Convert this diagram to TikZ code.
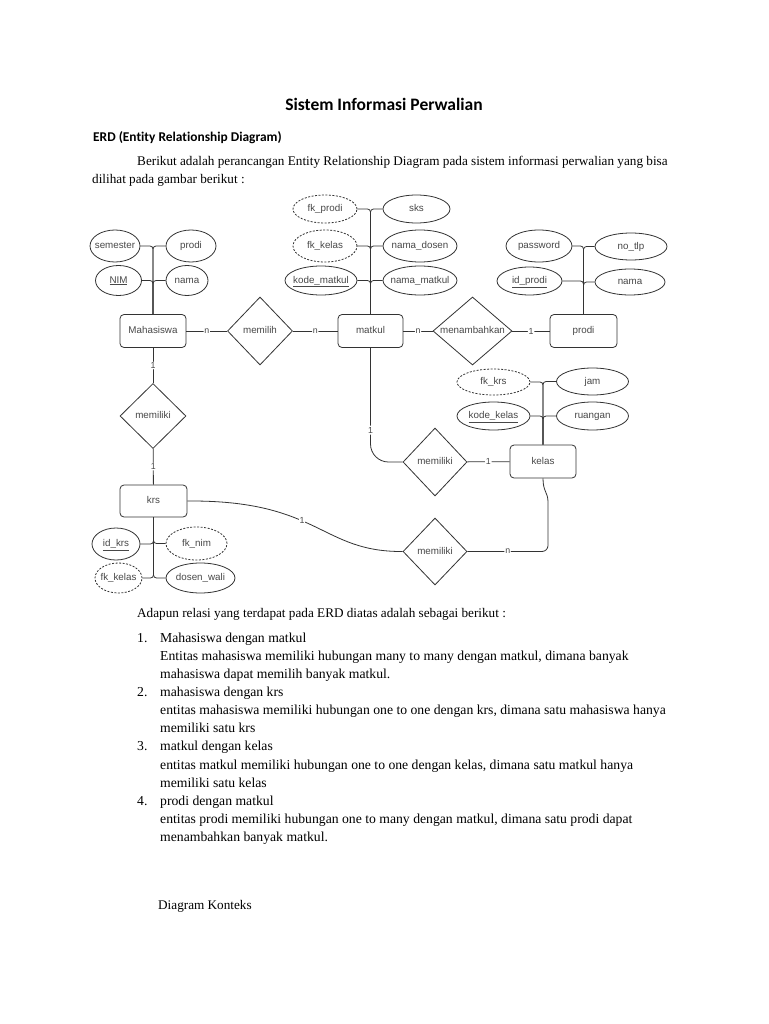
\documentclass[tikz,border=0pt]{standalone}
\usepackage{fontspec}
\setmainfont{Liberation Serif}
\newfontfamily\headfont[Ligatures=NoCommon]{Carlito}
\newfontfamily\erdfont{Liberation Sans}
\usetikzlibrary{shapes.geometric}
\definecolor{garis}{HTML}{333333}
\definecolor{tulisan}{HTML}{484848}

\begin{document}
\begin{tikzpicture}[x=1pt,y=-1pt]
\tikzstyle{every node}=[inner sep=0pt]
\tikzstyle{teks}=[anchor=base west, font=\fontsize{13.2}{16}\selectfont]
\tikzstyle{butir}=[anchor=base west, font=\fontsize{13.7}{16}\selectfont]
\tikzstyle{erd}=[draw=garis, line width=0.8pt, text=tulisan, text height=7pt, text depth=2pt, font=\erdfont\fontsize{9.8}{11}\selectfont]
\tikzstyle{entitas}=[erd, rounded corners=4pt, minimum height=33pt]
\tikzstyle{relasi}=[erd, diamond, shape aspect=1.2]
\tikzstyle{atribut}=[erd, ellipse, inner xsep=-8pt]
\tikzstyle{asing}=[atribut, dash pattern=on 2pt off 1.5pt]
\tikzstyle{hubung}=[draw=garis, line width=0.8pt, rounded corners=3pt]
\tikzstyle{kardinal}=[fill=white, inner sep=0.8pt, text=tulisan, font=\erdfont\fontsize{8.8}{10}\selectfont]

\fill[white] (0,0) rectangle (768,1024);
\useasboundingbox (0,0) rectangle (768,1024);

\node[anchor=base, font=\headfont\bfseries\fontsize{17.5}{20}\selectfont] (judul) at (384,111) {Sistem Informasi Perwalian};
\node[anchor=base west, font=\headfont\bfseries\fontsize{13.4}{16}\selectfont] (subjudul) at (93,142) {ERD (Entity Relationship Diagram)};
\node[teks] (berikut) at (137,166) {Berikut adalah perancangan Entity Relationship Diagram pada sistem informasi perwalian yang bisa};
\node[teks] (dilihat) at (92,184) {dilihat pada gambar berikut :};

% entitas
\node[entitas, minimum width=66pt] (mhs) at (153,331) {Mahasiswa};
\node[entitas, minimum width=65pt] (matkul) at (370.5,331) {matkul};
\node[entitas, minimum width=67pt] (prodi) at (583.5,331) {prodi};
\node[entitas, minimum width=67pt, minimum height=32pt] (krs) at (153.5,501) {krs};
\node[entitas, minimum width=66pt] (kelas) at (543,461.5) {kelas};

% relasi
\node[relasi, minimum width=65pt, minimum height=68pt] (pilih) at (260,331) {memilih};
\node[relasi, minimum width=79pt, minimum height=68pt] (tambah) at (472.5,331) {menambahkan};
\node[relasi, minimum width=66pt, minimum height=65pt] (milikkrs) at (153,416) {memiliki};
\node[relasi, minimum width=64pt, minimum height=68pt] (milikkelas) at (435,462) {memiliki};
\node[relasi, minimum width=64pt, minimum height=67pt] (ambilkelas) at (435,551.5) {memiliki};

% atribut mahasiswa
\node[atribut, minimum width=50pt, minimum height=32pt] (semester) at (115,246) {semester};
\node[atribut, minimum width=50pt, minimum height=32pt] (prodimhs) at (191,246) {prodi};
\node[atribut, minimum width=46pt, minimum height=30pt] (nim) at (118.5,280.5) {\underline{NIM}};
\node[atribut, minimum width=42pt, minimum height=30pt] (namamhs) at (187,280.5) {nama};

% atribut matkul
\node[asing, minimum width=64pt, minimum height=28pt] (fkprodi) at (325,209) {fk\_prodi};
\node[atribut, minimum width=67pt, minimum height=28pt] (sks) at (416.5,209) {sks};
\node[asing, minimum width=64pt, minimum height=32pt] (fkkelas) at (325,246) {fk\_kelas};
\node[atribut, minimum width=74pt, minimum height=32pt] (namadosen) at (420,246) {nama\_dosen};
\node[atribut, minimum width=72pt, minimum height=29pt] (kodematkul) at (321,280.5) {\underline{kode\_matkul}};
\node[atribut, minimum width=74pt, minimum height=29pt] (namamatkul) at (420,280.5) {nama\_matkul};

% atribut prodi
\node[atribut, minimum width=66pt, minimum height=32pt] (password) at (539,246) {password};
\node[atribut, minimum width=72pt, minimum height=27pt] (notlp) at (631,246.5) {no\_tlp};
\node[atribut, minimum width=65pt, minimum height=28pt] (idprodi) at (529.5,281) {\underline{id\_prodi}};
\node[atribut, minimum width=70pt, minimum height=26pt] (namaprodi) at (630,282) {nama};

% atribut kelas
\node[asing, minimum width=73pt, minimum height=26pt] (fkkrs) at (493.5,382) {fk\_krs};
\node[atribut, minimum width=72pt, minimum height=27pt] (jam) at (592.5,381.5) {jam};
\node[atribut, minimum width=73pt, minimum height=28pt] (kodekelas) at (493.5,416) {\underline{kode\_kelas}};
\node[atribut, minimum width=72pt, minimum height=28pt] (ruangan) at (592.5,416) {ruangan};

% atribut krs
\node[atribut, minimum width=48pt, minimum height=32pt] (idkrs) at (116,544) {\underline{id\_krs}};
\node[asing, minimum width=61pt, minimum height=33pt] (fknim) at (196.5,543.5) {fk\_nim};
\node[asing, minimum width=47pt, minimum height=30pt] (fkkelaskrs) at (118.5,578) {fk\_kelas};
\node[atribut, minimum width=69pt, minimum height=30pt] (dosenwali) at (200.5,578) {dosen\_wali};

\draw[hubung] (semester.east) -| (mhs.north);
\draw[hubung] (nim.east) -| (mhs.north);
\draw[hubung] (prodimhs.west) -| (mhs.north);
\draw[hubung] (namamhs.west) -| (mhs.north);

\draw[hubung] (fkprodi.east) -| (matkul.north);
\draw[hubung] (fkkelas.east) -| (matkul.north);
\draw[hubung] (kodematkul.east) -| (matkul.north);
\draw[hubung] (sks.west) -| (matkul.north);
\draw[hubung] (namadosen.west) -| (matkul.north);
\draw[hubung] (namamatkul.west) -| (matkul.north);

\draw[hubung] (password.east) -| (prodi.north);
\draw[hubung] (idprodi.east) -| (prodi.north);
\draw[hubung] (notlp.west) -| (prodi.north);
\draw[hubung] (namaprodi.west) -| (prodi.north);

\draw[hubung] (fkkrs.east) -| (kelas.north);
\draw[hubung] (kodekelas.east) -| (kelas.north);
\draw[hubung] (jam.west) -| (kelas.north);
\draw[hubung] (ruangan.west) -| (kelas.north);

\draw[hubung] (idkrs.east) -| (krs.south);
\draw[hubung] (fkkelaskrs.east) -| (krs.south);
\draw[hubung] (fknim.west) -| (krs.south);
\draw[hubung] (dosenwali.west) -| (krs.south);

% relasi antar entitas
\draw[hubung] (mhs) -- node[kardinal]{n} (pilih);
\draw[hubung] (pilih) -- node[kardinal]{n} (matkul);
\draw[hubung] (matkul) -- node[kardinal]{n} (tambah);
\draw[hubung] (tambah) -- node[kardinal]{1} (prodi);
\draw[hubung] (mhs) -- node[kardinal]{1} (milikkrs);
\draw[hubung] (milikkrs) -- node[kardinal]{1} (krs);
\draw[hubung] (milikkelas) -- node[kardinal]{1} (kelas);
\draw[hubung, rounded corners=18pt] (matkul.south) |- node[kardinal, pos=0.36]{1} (milikkelas.west);
\draw[hubung] (krs.east) .. controls (320,500) and (320,552) .. node[kardinal, pos=0.43]{1} (ambilkelas.west);
\coordinate (tekuk) at (548,508);
\draw[hubung, rounded corners=6pt] (ambilkelas.east) -| node[kardinal, pos=0.25]{n} (tekuk) .. controls (548,492) and (543,492) .. (kelas.south);

\node[teks] (adapun) at (137,617.5) {Adapun relasi yang terdapat pada ERD diatas adalah sebagai berikut :};
\node[butir] (no1) at (137,642.3) {1.};
\node[butir] (b1) at (160,642.3) {Mahasiswa dengan matkul};
\node[butir] (b2) at (160,660.4) {Entitas mahasiswa memiliki hubungan many to many dengan matkul, dimana banyak};
\node[butir] (b3) at (160,678.5) {mahasiswa dapat memilih banyak matkul.};
\node[butir] (no2) at (137,696.6) {2.};
\node[butir] (b4) at (160,696.6) {mahasiswa dengan krs};
\node[butir] (b5) at (160,714.7) {entitas mahasiswa memiliki hubungan one to one dengan krs, dimana satu mahasiswa hanya};
\node[butir] (b6) at (160,732.8) {memiliki satu krs};
\node[butir] (no3) at (137,750.9) {3.};
\node[butir] (b7) at (160,750.9) {matkul dengan kelas};
\node[butir] (b8) at (160,769.0) {entitas matkul memiliki hubungan one to one dengan kelas, dimana satu matkul hanya};
\node[butir] (b9) at (160,787.1) {memiliki satu kelas};
\node[butir] (no4) at (137,805.2) {4.};
\node[butir] (b10) at (160,805.2) {prodi dengan matkul};
\node[butir] (b11) at (160,823.3) {entitas prodi memiliki hubungan one to many dengan matkul, dimana satu prodi dapat};
\node[butir] (b12) at (160,841.4) {menambahkan banyak matkul.};
\node[teks] (konteks) at (158,909) {Diagram Konteks};
\end{tikzpicture}
\end{document}
